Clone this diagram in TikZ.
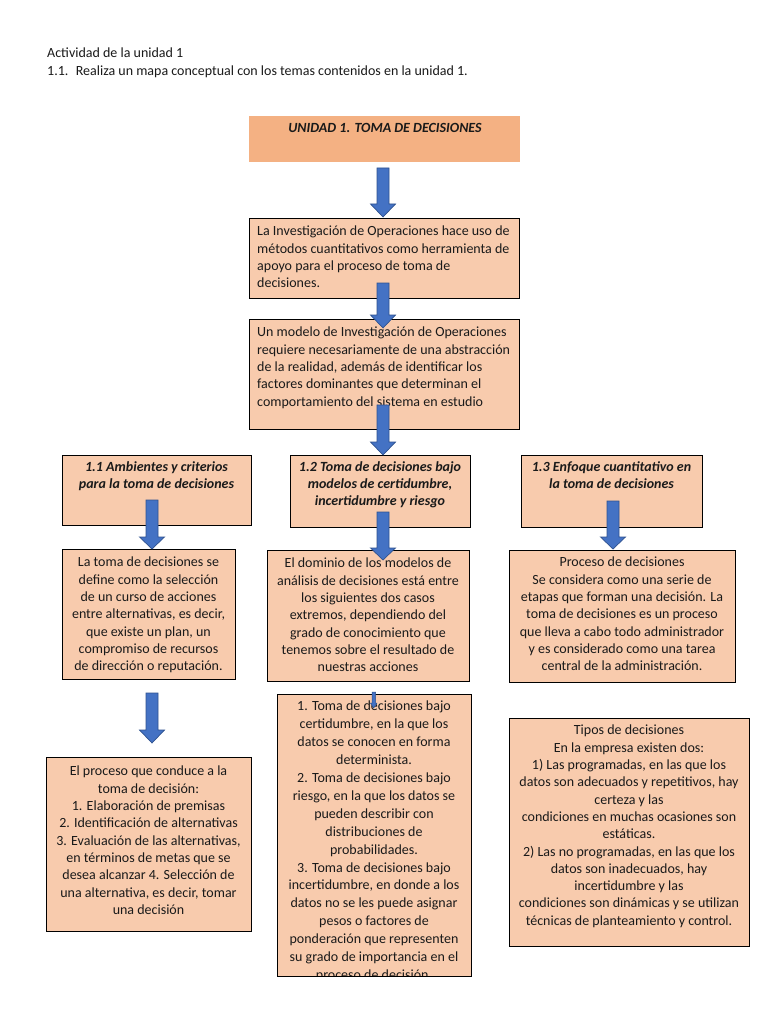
\documentclass[tikz,border=0pt]{standalone}
\usepackage{fontspec}
\setmainfont{Carlito}
\definecolor{titlefill}{HTML}{F4B183}
\definecolor{boxfill}{HTML}{F8CBAD}
\definecolor{arrfill}{HTML}{4472C4}
\definecolor{arrline}{HTML}{2F528F}
\definecolor{txt}{HTML}{1A1A1A}
\newcommand\barrow[4]{% center x, top, head start, tip
  \filldraw[arr] (#1-6,#2) -- (#1+6,#2) -- (#1+6,#3) -- (#1+12.5,#3) -- (#1,#4) -- (#1-12.5,#3) -- (#1-6,#3) -- cycle;}
\begin{document}
\begin{tikzpicture}[x=1pt,y=-1pt,
  box/.style={draw=black,line width=0.9pt,fill=boxfill,inner sep=0pt,anchor=north west},
  titlebox/.style={fill=titlefill,inner sep=0pt,anchor=north west},
  body/.style={inner sep=0pt,anchor=north,align=center,text=txt,font=\fontsize{14}{17.3}\selectfont},
  bodyl/.style={body,anchor=north west,align=left},
  head/.style={body,font=\fontsize{14}{17.3}\selectfont\bfseries\itshape},
  arr/.style={fill=arrfill,draw=arrline,line width=0.7pt,line join=miter}]
\useasboundingbox (0,0) rectangle (768,1024);
\fill[white] (0,0) rectangle (768,1024);

% header
\node[bodyl] (hdr) at (47,48) {Actividad de la unidad 1\\1.1.~ Realiza un mapa conceptual con los temas contenidos en la unidad 1.};

% boxes
\node[titlebox,minimum width=271pt,minimum height=46pt] (b1) at (249,116) {};
\node[head] (t1) at (385,123) {UNIDAD 1. TOMA DE DECISIONES};

\node[box,minimum width=270pt,minimum height=80pt] (b2) at (249,218) {};
\node[bodyl] (t2) at (257,226) {La Investigación de Operaciones hace uso de\\métodos cuantitativos como herramienta de\\apoyo para el proceso de toma de\\decisiones.};

\node[box,minimum width=270pt,minimum height=110pt] (b3) at (249,319) {};
\node[bodyl] (t3) at (257,327) {Un modelo de Investigación de Operaciones\\requiere necesariamente de una abstracción\\de la realidad, además de identificar los\\factores dominantes que determinan el\\comportamiento del sistema en estudio};

\node[box,minimum width=189pt,minimum height=70pt] (b11) at (62,455) {};
\node[head] (t11) at (156.5,461) {1.1 Ambientes y criterios\\para la toma de decisiones};

\node[box,minimum width=180pt,minimum height=72pt] (b12) at (290,455) {};
\node[head] (t12) at (380,461) {1.2 Toma de decisiones bajo\\modelos de certidumbre,\\incertidumbre y riesgo};

\node[box,minimum width=181pt,minimum height=72pt] (b13) at (521,455) {};
\node[head] (t13) at (611.5,461) {1.3 Enfoque cuantitativo en\\la toma de decisiones};

\node[box,minimum width=173pt,minimum height=130pt] (b11b) at (62,549) {};
\node[body] (t11b) at (148.5,557) {La toma de decisiones se\\define como la selección\\de un curso de acciones\\entre alternativas, es decir,\\que existe un plan, un\\compromiso de recursos\\de dirección o reputación.};

\node[box,minimum width=202pt,minimum height=131pt] (b12b) at (267,550) {};
\node[body] (t12b) at (368,558) {El dominio de los modelos de\\análisis de decisiones está entre\\los siguientes dos casos\\extremos, dependiendo del\\grado de conocimiento que\\tenemos sobre el resultado de\\nuestras acciones};

\node[box,minimum width=226pt,minimum height=132pt] (b13b) at (509,550) {};
\node[body] (t13b) at (622,557) {Proceso de decisiones\\Se considera como una serie de\\etapas que forman una decisión. La\\toma de decisiones es un proceso\\que lleva a cabo todo administrador\\y es considerado como una tarea\\central de la administración.};

\node[box,minimum width=205pt,minimum height=174pt] (b11c) at (46,757) {};
\node[body] (t11c) at (148.5,766) {El proceso que conduce a la\\toma de decisión:\\1. Elaboración de premisas\\2. Identificación de alternativas\\3. Evaluación de las alternativas,\\en términos de metas que se\\desea alcanzar 4. Selección de\\una alternativa, es decir, tomar\\una decisión};

\node[box,minimum width=194pt,minimum height=282pt] (b12c) at (277,694) {};
\begin{scope}
\clip (277.5,694.5) rectangle (470.5,975.5);
\node[body,font=\fontsize{14}{17.9}\selectfont] (t12c) at (374,701) {1. Toma de decisiones bajo\\certidumbre, en la que los\\datos se conocen en forma\\determinista.\\2. Toma de decisiones bajo\\riesgo, en la que los datos se\\pueden describir con\\distribuciones de\\probabilidades.\\3. Toma de decisiones bajo\\incertidumbre, en donde a los\\datos no se les puede asignar\\pesos o factores de\\ponderación que representen\\su grado de importancia en el\\proceso de decisión.};
\end{scope}
\draw[black,line width=0.9pt] (b12c.north west) rectangle (b12c.south east);

\node[box,minimum width=240pt,minimum height=228pt] (b13c) at (509,718) {};
\node[body] (t13c) at (629,725) {Tipos de decisiones\\En la empresa existen dos:\\1) Las programadas, en las que los\\datos son adecuados y repetitivos, hay\\certeza y las\\condiciones en muchas ocasiones son\\estáticas.\\2) Las no programadas, en las que los\\datos son inadecuados, hay\\incertidumbre y las\\condiciones son dinámicas y se utilizan\\técnicas de planteamiento y control.};

% block arrows
\barrow{383}{168}{204}{217}
\barrow{383}{283}{315}{328}
\barrow{383}{405}{442}{455}
\barrow{152}{500}{537}{549}
\barrow{383}{512}{548}{560}
\barrow{613}{501}{537}{549}
\barrow{152}{693}{730}{743}
\filldraw[arr,line width=0.5pt] (372,692) -- (375.5,692) -- (375.5,703) -- (377,703) -- (373.7,708) -- (370.4,703) -- (372,703) -- cycle;
\end{tikzpicture}
\end{document}
